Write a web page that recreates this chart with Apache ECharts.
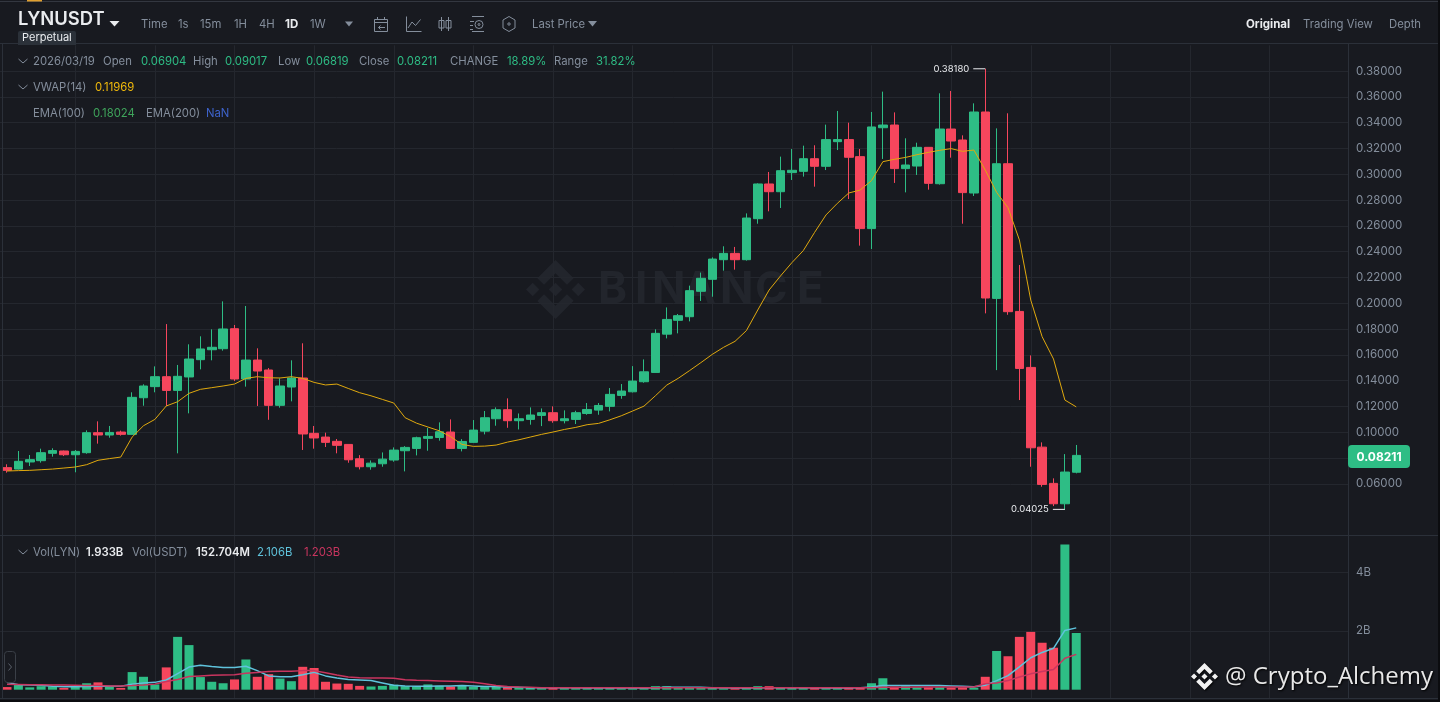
<!DOCTYPE html>
<html><head><meta charset="utf-8">
<style>html,body{margin:0;padding:0;background:#181A20;overflow:hidden}#c{width:1440px;height:702px}</style>
<script src="https://cdn.jsdelivr.net/npm/echarts@6/dist/echarts.min.js"></script>
</head><body><div id="c"></div>
<script>
const opens=[.0726,.0715,.0770,.0780,.0837,.0855,.0826,.0842,.0997,.0979,
.1002,.0984,.1268,.1354,.1431,.1325,.1429,.1563,.1640,.1648,
.1803,.1413,.1560,.1483,.1209,.1351,.1421,.0992,.0963,.0930,
.0906,.0795,.0733,.0756,.0785,.0857,.0875,.0953,.0960,.1002,
.0875,.0922,.1009,.1105,.1175,.1090,.1100,.1131,.1152,.1090,
.1100,.1146,.1172,.1201,.1286,.1314,.1392,.1464,.1761,.1868,
.1896,.2093,.2186,.2338,.2387,.2338,.2656,.2925,.2865,.3013,
.3023,.3121,.3062,.3253,.3269,.3137,.2579,.3361,.3382,.3044,
.3064,.3209,.2927,.3351,.3266,.2855,.3483,.2038,.3082,.1937,
.1503,.0885,.0604,.0446,.06904];
const closes=[.0705,.0775,.0788,.0842,.0858,.0826,.0852,.0997,.0979,.0999,
.0984,.1271,.1359,.1431,.1325,.1434,.1568,.1646,.1659,.1801,
.1413,.1560,.1475,.1209,.1359,.1421,.0987,.0956,.0922,.0899,
.0787,.0733,.0761,.0792,.0862,.0883,.0958,.0968,.1004,.0875,
.0929,.1017,.1113,.1175,.1090,.1105,.1134,.1152,.1090,.1105,
.1152,.1177,.1208,.1294,.1320,.1397,.1469,.1767,.1875,.1904,
.2098,.2194,.2343,.2387,.2338,.2661,.2925,.2865,.3028,.3031,
.3121,.3062,.3269,.3269,.3132,.2579,.3367,.3382,.3044,.3072,
.3209,.2930,.3351,.3258,.2858,.3483,.2041,.3082,.1935,.1495,
.0880,.0596,.0446,.0692,.08211];
const highs=[.0752,.0855,.0824,.0873,.0876,.0858,.0863,.1015,.1085,.1049,
.1013,.1310,.1372,.1511,.1839,.1522,.1682,.1744,.1798,.2015,
.1832,.1979,.1651,.1498,.1418,.1558,.1690,.1049,.0997,.0948,
.0906,.0823,.0782,.0844,.0883,.0893,.0966,.1033,.1077,.1100,
.0947,.1095,.1165,.1193,.1263,.1146,.1193,.1185,.1201,.1170,
.1167,.1227,.1227,.1343,.1374,.1513,.1565,.1798,.1968,.1917,
.2137,.2238,.2356,.2442,.2437,.2697,.2930,.3018,.3137,.3196,
.3222,.3225,.3385,.3491,.3400,.3196,.3483,.3641,.3480,.3279,
.3245,.3209,.3628,.3646,.3302,.3550,.3818,.3356,.3473,.2297,
.1596,.0922,.0643,.0831,.09017];
const lows=[.0687,.0712,.0739,.0765,.0811,.0816,.0690,.0834,.0912,.0958,
.0974,.0984,.1206,.1310,.1204,.0837,.1147,.1488,.1558,.1633,
.1398,.1354,.1204,.1097,.1191,.1240,.0863,.0873,.0886,.0837,
.0764,.0712,.0710,.0733,.0772,.0697,.0821,.0857,.0935,.0875,
.0852,.0919,.0984,.1051,.1035,.1022,.1059,.1048,.1074,.1069,
.1064,.1136,.1136,.1162,.1260,.1309,.1384,.1464,.1728,.1767,
.1860,.2018,.2051,.2253,.2261,.2331,.2617,.2713,.2739,.2956,
.2982,.2904,.3033,.3188,.2808,.2447,.2421,.3119,.2933,.2860,
.2995,.2881,.2920,.3129,.2617,.2832,.1922,.1482,.1911,.1250,
.0733,.0578,.0428,.04025,.06819];
const vwap=[.0700,.0703,.0705,.0710,.0715,.0723,.0731,.0749,.0783,.0796,
.0808,.0963,.1051,.1100,.1204,.1237,.1302,.1333,.1346,.1359,
.1374,.1418,.1431,.1423,.1421,.1431,.1418,.1387,.1367,.1374,
.1340,.1307,.1283,.1255,.1227,.1113,.1071,.1041,.1012,.0966,
.0906,.0891,.0893,.0901,.0924,.0942,.0963,.0984,.1002,.1022,
.1038,.1059,.1069,.1097,.1128,.1165,.1203,.1283,.1366,.1418,
.1478,.1540,.1604,.1659,.1705,.1788,.1948,.2103,.2212,.2315,
.2408,.2550,.2685,.2775,.2855,.2878,.2951,.3098,.3116,.3131,
.3152,.3170,.3186,.3199,.3178,.3188,.3033,.2860,.2741,.2491,
.2025,.1741,.1568,.1250,.1197];
const volume=[.09,.16,.08,.12,.11,.06,.09,.22,.25,.10,
.06,.60,.44,.18,.76,1.80,1.52,.43,.27,.22,
.35,1.03,.44,.53,.38,.29,.78,.74,.27,.21,
.20,.13,.11,.13,.17,.12,.11,.18,.13,.11,
.13,.10,.09,.11,.08,.07,.07,.06,.08,.06,
.06,.06,.05,.06,.05,.05,.06,.12,.12,.07,
.06,.06,.06,.05,.05,.06,.12,.12,.06,.06,
.06,.06,.06,.06,.06,.06,.22,.39,.10,.12,
.08,.08,.08,.07,.08,.07,.44,1.32,1.14,1.80,
1.97,1.60,1.43,4.95,1.933];
const volFast=[.25,.17,.16,.15,.12,.10,.10,.11,.12,.12,
.12,.19,.23,.25,.33,.55,.77,.83,.79,.76,
.76,.80,.65,.47,.44,.44,.51,.59,.47,.40,
.35,.33,.31,.23,.15,.13,.12,.12,.13,.13,
.14,.13,.11,.11,.09,.08,.07,.07,.07,.07,
.07,.06,.06,.06,.06,.06,.06,.07,.08,.08,
.08,.08,.07,.07,.06,.06,.07,.07,.07,.07,
.07,.07,.06,.06,.06,.07,.09,.14,.14,.14,
.14,.14,.14,.13,.12,.10,.15,.31,.48,.78,
1.09,1.27,1.41,2.02,2.106];
const volSlow=[.19,.18,.17,.17,.16,.16,.15,.14,.14,.13,
.13,.14,.16,.19,.28,.35,.45,.47,.49,.50,
.51,.56,.59,.62,.63,.63,.65,.65,.58,.50,
.43,.41,.40,.40,.39,.34,.32,.31,.30,.29,
.28,.25,.20,.14,.11,.09,.08,.07,.07,.07,
.07,.07,.07,.07,.07,.07,.07,.07,.07,.07,
.07,.07,.07,.07,.07,.07,.07,.07,.07,.07,
.07,.07,.07,.07,.07,.07,.07,.08,.08,.08,
.09,.09,.09,.09,.09,.09,.20,.23,.31,.43,
.54,.62,.69,1.07,1.203];
const priceTicks=[.06,.08,.10,.12,.14,.16,.18,.20,.22,.24,.26,.28,.30,.32,.34,.36,.38];
const volTicks=[2,4];

const UP='#2EBD85',DN='#F6465D',BG='#181A20',GRID='#24272E',LINE='#2B3039',MUTED='#848E9C';
const xOf=i=>i+1;
const candle=opens.map((o,i)=>[xOf(i),o,closes[i],lows[i],highs[i]]);
const FONT='Inter, "Noto Sans", sans-serif';
const T=(x,y,text,fill,size,weight,align)=>({type:'text',x,y:y+1.5,z:50,silent:true,style:{text,fill:fill||MUTED,font:(weight||'normal')+' '+(size||11.3)+'px '+FONT,textVerticalAlign:'middle',textAlign:align||'left'}});
const L=(x1,y1,x2,y2,c)=>({type:'line',z:40,silent:true,shape:{x1,y1,x2,y2},style:{stroke:c||LINE,lineWidth:1}});
const PL=(pts,c)=>({type:'polyline',z:50,silent:true,shape:{points:pts},style:{stroke:c||MUTED,fill:null,lineWidth:1}});
const R=(x,y,w,h,c)=>({type:'rect',z:50,silent:true,shape:{x,y,width:w,height:h},style:{stroke:c||MUTED,fill:null,lineWidth:1}});
const LOGO_POLYS=[
 [[63.32,0],[102.22,38.91],[87.92,53.22],[63.32,28.62],[38.73,53.2],[24.42,38.9]],
 [[0,63.31],[14.3,49],[28.61,63.31],[14.3,77.61]],
 [[38.73,73.41],[63.32,98],[87.92,73.4],[102.23,87.69],[63.33,126.6],[24.42,87.72]],
 [[98,63.31],[112.3,49],[126.61,63.3],[112.3,77.62]],
 [[63.32,48.78],[77.83,63.3],[63.32,77.78],[48.81,63.28]]];
const logo=(x,y,size,style,z)=>LOGO_POLYS.map(p=>({type:'polygon',z,silent:true,shape:{points:p.map(q=>[x+q[0]*size/126.61,y+q[1]*size/126.61])},style}));
const tri=(x,y,w,h,c)=>({type:'polygon',z:50,silent:true,shape:{points:[[x,y],[x+w,y],[x+w/2,y+h]]},style:{fill:c}});
const chev=(x,y)=>PL([[x,y],[x+4.5,y+4],[x+9,y]]);
const wmLetters=[['B',598],['I',635],['N',652],['A',683],['N',720],['C',755],['E',797]];

const graphics=[].concat(
 logo(526,260,59,{fill:'#22252C'},-1),
 wmLetters.map(l=>({type:'text',z:-1,silent:true,x:l[1],y:290,style:{text:l[0],fill:'#22252C',font:'bold 44px Inter, sans-serif',textVerticalAlign:'middle'}})),
 [L(0,1.5,1440,1.5,'#333740'),L(0,43.5,1440,43.5,LINE),L(0,535.5,1440,535.5,LINE),L(0,698.5,1440,698.5,LINE),
 L(1348.5,43,1348.5,699,LINE),L(2.5,43,2.5,699,LINE),
 {type:'rect',z:41,silent:true,shape:{x:27,y:0,width:15,height:1.5},style:{fill:'#E0A030'}},
 {type:'rect',z:39,silent:true,shape:{x:0,y:699,width:1440,height:1},style:{fill:BG}},
 {type:'rect',z:41,silent:true,shape:{x:1438,y:0,width:2,height:702},style:{fill:'#0B0C0F'}},
 {type:'rect',z:41,silent:true,shape:{x:0,y:700,width:1440,height:2},style:{fill:'#0B0C0F'}},
 T(18,18,'LYNUSDT','#EAECEF',18.4,'600'),
 tri(109.5,21,10,5.5,'#EAECEF'),
 {type:'rect',z:45,silent:true,shape:{x:18,y:31,width:58,height:14,r:[2,2,0,0]},style:{fill:'#2B3139'}},
 T(22,36.5,'Perpetual','#EAECEF',11),
 T(141,23,'Time'),T(178,23,'1s'),T(200,23,'15m'),T(234,23,'1H'),T(259,23,'4H'),T(285,23,'1D','#EAECEF',11.5,'700'),T(310,23,'1W'),
 tri(345,21.5,8,5,MUTED),
 R(374.5,19.5,13,12),PL([[374.5,22.5],[387.5,22.5]]),PL([[377.5,17],[377.5,19.5]]),PL([[384.5,17],[384.5,19.5]]),PL([[385,27.5],[378.5,27.5]]),PL([[380.5,25.5],[378.5,27.5],[380.5,29.5]]),
 PL([[406.5,16.5],[406.5,31.5],[421.5,31.5]]),PL([[408,28],[412,22],[415.5,25.5],[420.5,19.5]]),
 PL([[441.5,17],[441.5,31]]),PL([[448.5,17],[448.5,31]]),R(439,20.5,5,7.5),R(446,20.5,5,7.5),
 PL([[472,16.5],[484,16.5]]),PL([[470,21.5],[474,21.5]]),PL([[470,25.5],[473,25.5]]),PL([[470,29.5],[473,29.5]]),PL([[472,31.5],[484,31.5]]),
 {type:'circle',z:50,silent:true,shape:{cx:479,cy:24.5,r:4},style:{stroke:MUTED,fill:null,lineWidth:1}},
 {type:'circle',z:50,silent:true,shape:{cx:479,cy:24.5,r:1},style:{stroke:MUTED,fill:null,lineWidth:1}},
 {type:'polygon',z:50,silent:true,shape:{points:[[509,16.5],[515,20],[515,28],[509,31.5],[503,28],[503,20]]},style:{stroke:MUTED,fill:null,lineWidth:1}},
 {type:'circle',z:50,silent:true,shape:{cx:509,cy:24,r:1.2},style:{stroke:MUTED,fill:null,lineWidth:1}},
 T(532,23,'Last Price'),tri(588,21,9,5.5,MUTED),
 T(1246,23,'Original','#EAECEF',11.5,'700'),T(1303,23,'Trading View'),T(1389,23,'Depth'),
 chev(18.5,59),T(33,60,'2026/03/19'),T(103,60,'Open'),T(141,60,'0.06904',UP),T(193,60,'High'),T(225,60,'0.09017',UP),T(278,60,'Low'),T(306,60,'0.06819',UP),
 T(359,60,'Close'),T(397,60,'0.08211',UP),T(450,60,'CHANGE'),T(507,60,'18.89%',UP),T(554,60,'Range'),T(596,60,'31.82%',UP),
 chev(18.5,85),T(33,86,'VWAP(14)'),T(95,86,'0.11969','#F0B90B'),
 T(33,112,'EMA(100)'),T(93,112,'0.18024','#3FA45B'),T(146,112,'EMA(200)'),T(206,112,'NaN','#3D62C9'),
 chev(18.5,550),T(33,551,'Vol(LYN)'),T(86,551,'1.933B','#EAECEF',11.3,'600'),T(132,551,'Vol(USDT)'),T(196,551,'152.704M','#EAECEF',11.3,'600'),T(257,551,'2.106B','#5FC3DC'),T(304,551,'1.203B','#C9355F'),
 {type:'rect',z:45,silent:true,shape:{x:1348,y:445,width:62,height:23,r:4},style:{fill:UP}},
 T(1379,456,'0.08211','#FFFFFF',12,'700','center'),
 {type:'rect',z:45,silent:true,shape:{x:4.5,y:651.5,width:11,height:31,r:3},style:{fill:BG,stroke:'#3A3F47',lineWidth:1}},
 {type:'polyline',z:46,silent:true,shape:{points:[[8.5,663.5],[11.5,667],[8.5,670.5]]},style:{stroke:'#5A606A',fill:null,lineWidth:1}}],
 logo(1191,663,27,{fill:'#F2F2F2',shadowColor:'#000',shadowBlur:2,shadowOffsetX:1,shadowOffsetY:1},60),
 [{type:'text',z:60,silent:true,x:1225,y:677.5,style:{text:'@ Crypto_Alchemy',fill:'#E8E8E8',font:'24px "Open Sans", sans-serif',textVerticalAlign:'middle',textShadowColor:'#000',textShadowBlur:2,textShadowOffsetX:1,textShadowOffsetY:1}}]
);

const X_MIN=0,X_MAX=118.89;
const LEFT=-4.375,WIDTH=1352.375;
const baseX=(gi)=>({type:'value',gridIndex:gi,min:X_MIN,max:X_MAX,interval:7,axisLine:{show:false},axisTick:{show:false},axisLabel:{show:false},
 splitLine:{show:true,showMinLine:false,showMaxLine:false,lineStyle:{color:GRID,width:1}}});
const CLEAR='rgba(0,0,0,0)';
const priceLineColors=[CLEAR,CLEAR].concat(priceTicks.map(()=>GRID),[CLEAR]);

const option={
 animation:false,backgroundColor:BG,
 graphic:graphics,
 grid:[{left:LEFT,width:WIDTH,top:45.3,height:490.2,outerBoundsMode:'none'},{left:LEFT,width:WIDTH,top:536,height:212.4,outerBoundsMode:'none'}],
 xAxis:[baseX(0),baseX(1)],
 yAxis:[
  {type:'value',gridIndex:0,position:'right',min:.02,max:.40,interval:.02,axisLine:{show:false},axisTick:{show:false},
   axisLabel:{color:MUTED,fontSize:11.5,fontFamily:FONT,margin:8,formatter:v=>(v<.05||v>.39)?'':v.toFixed(5)},
   splitLine:{show:true,lineStyle:{color:priceLineColors,width:1}}},
  {type:'value',gridIndex:1,position:'right',min:-2,max:5.237,interval:2,axisLine:{show:false},axisTick:{show:false},
   axisLabel:{color:MUTED,fontSize:11.5,fontFamily:FONT,margin:8,formatter:v=>volTicks.includes(v)?v+'B':''},
   splitLine:{show:true,lineStyle:{color:[CLEAR,CLEAR].concat(volTicks.map(()=>GRID),[CLEAR]),width:1}}}
 ],
 series:[
  {type:'candlestick',xAxisIndex:0,yAxisIndex:0,data:candle,encode:{x:0,y:[1,2,3,4]},barWidth:9,
   itemStyle:{color:UP,color0:DN,borderColor:UP,borderColor0:DN,borderWidth:1},
   markPoint:{animation:false,silent:true,data:[
    {coord:[xOf(86),.3818],symbol:'rect',symbolSize:[12,1],symbolOffset:[-6,0],itemStyle:{color:'#EAECEF'},
     label:{show:true,position:'left',distance:4,formatter:'0.38180',color:'#EAECEF',fontSize:9.5,fontFamily:FONT}},
    {coord:[xOf(93),.04025],symbol:'rect',symbolSize:[12,1],symbolOffset:[-6,0],itemStyle:{color:'#EAECEF'},
     label:{show:true,position:'left',distance:4,formatter:'0.04025',color:'#EAECEF',fontSize:9.5,fontFamily:FONT}}
   ]}},
  {type:'line',xAxisIndex:0,yAxisIndex:0,data:vwap.map((v,i)=>[xOf(i),v]),symbol:'none',lineStyle:{color:'#E0A90E',width:1},z:5},
  {type:'bar',xAxisIndex:1,yAxisIndex:1,barWidth:9,z:2,
   data:volume.map((v,i)=>({value:[xOf(i),v],itemStyle:{color:closes[i]>=opens[i]?UP:DN}}))},
  {type:'line',xAxisIndex:1,yAxisIndex:1,data:volFast.map((v,i)=>[xOf(i),v]),symbol:'none',lineStyle:{color:'#5FC3DC',width:1.5},z:4},
  {type:'line',xAxisIndex:1,yAxisIndex:1,data:volSlow.map((v,i)=>[xOf(i),v]),symbol:'none',lineStyle:{color:'#C9355F',width:1.5},z:5}
 ]
};
const chart=echarts.init(document.getElementById('c'),null,{renderer:'canvas',width:1440,height:702});
chart.setOption(option);
</script></body></html>
